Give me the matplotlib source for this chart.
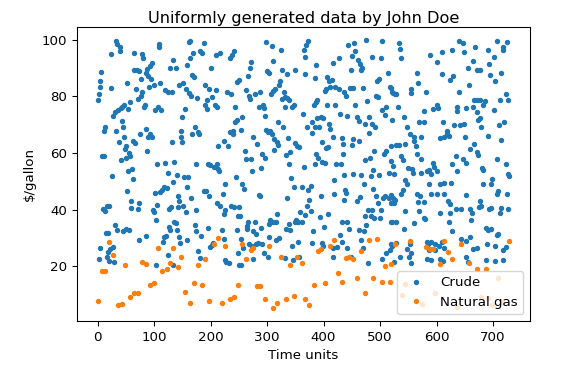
import matplotlib
matplotlib.use("Agg")
import matplotlib.pyplot as plt

# crude price per day
crude_day = [
    33, 34, 39, 40, 24, 64, 79, 80, 108, 109,
    161, 164, 189, 169, 182, 185, 209, 217, 241, 238,
    235, 134, 129, 138, 96, 93, 88, 65, 69, 73,
    85, 90, 94, 76, 6, 5, 4, 2, 0, 23,
    52, 68, 78, 91, 100, 111, 120, 124, 132, 144,
    152, 157, 162, 165, 176, 170, 167, 159, 163, 200,
    190, 197, 210, 203, 193, 191, 194, 208, 212, 229,
    237, 247, 250, 244, 246, 243, 240, 239, 234, 223,
    214, 230, 58, 46, 43, 41, 36, 31, 28, 53,
    72, 82, 84, 77, 102, 107, 112, 155, 150, 173,
    168, 177, 179, 147, 148, 149, 131, 92, 89, 97,
    86, 75, 44, 45, 47, 38, 62, 67, 51, 49,
    55, 57, 50, 42, 87, 14, 11, 32, 8, 12,
    105, 119, 135, 125, 141, 175, 195, 199, 206, 211,
    213, 215, 26, 54, 61, 153, 160, 245,
    63, 52, 101, 110, 114, 117, 122, 133, 158, 188,
    192, 198, 225, 222, 60, 74, 59, 71, 106, 98,
    99, 126, 130, 142, 145, 151, 143, 156, 174, 166,
    212, 216, 226, 224, 236, 242, 249, 10, 13, 17,
    21, 104, 136, 139, 127, 128, 140, 30, 35, 45,
    50, 56, 15, 19, 172, 175, 183, 196, 220, 74,
    86, 116, 118, 121, 144, 146, 158, 199, 202, 205,
    223, 247, 5, 18, 22, 27, 2, 16, 20, 29,
    103, 124, 134, 178, 181, 225, 228, 232, 248,
    298, 308, 325, 373, 369, 365, 368, 444, 454, 475,
    504, 271, 269, 310, 300, 304, 326, 336, 349, 387,
    416, 427, 455, 450, 461, 464, 468, 466, 485, 501,
    514, 448, 266, 323, 321, 367, 384, 406, 409, 415,
    411, 405, 403, 447, 452, 470, 498, 495, 517, 521,
    526, 262, 268, 270, 279, 288, 314, 311, 307, 330,
    331, 327, 335, 338, 421, 428, 436, 440, 492, 496,
    477, 456, 503, 508, 511, 285, 292, 294, 332, 344,
    347, 383, 386, 389, 407, 420, 429, 442, 459, 462,
    480, 473, 486, 491, 481, 522, 256, 253, 297, 275,
    282, 299, 302, 306, 309, 313, 318, 320, 319, 328,
    337, 350, 353, 356, 363, 371, 380, 388, 395, 399,
    385, 392, 410, 412, 417, 379, 398, 404, 408, 432,
    434, 453, 451, 463, 490, 507, 510, 520, 261, 263,
    272, 291, 296, 312, 334, 341, 339, 366, 386, 390,
    384, 397, 402, 422, 431, 435, 474, 483, 487, 273,
    290, 437, 452, 467, 484, 499, 516, 523,
    255, 259, 286, 287, 342, 348, 361, 372, 378, 336,
    419, 438, 439, 436, 471, 465, 460, 488, 493, 497,
    506, 509, 515, 519, 527, 396, 418, 375, 370, 359,
    368, 377, 408, 394, 251, 252, 267, 278, 265, 264,
    276, 281, 289, 305, 310, 303, 315, 317, 338, 340,
    333, 351, 350, 355, 362, 381, 401, 430, 433, 441,
    445, 463, 472, 476, 474, 479, 485, 484, 489, 500,
    502, 521, 254, 257, 268, 274, 280, 284, 291, 295,
    301, 304, 316, 321, 331, 345, 354, 346, 357, 379,
    397, 399, 416, 423, 417, 432, 442, 448, 469, 467,
    478, 504, 511, 517, 522, 250, 253, 275,
    534, 535, 538, 588, 600, 609, 628, 640, 646, 649,
    669, 691, 701, 707, 717, 718, 724, 665, 656, 671,
    677, 693, 714, 695, 703, 565, 567, 610, 624, 630,
    658, 519, 523, 528, 555, 554, 581, 640, 666, 671,
    677, 685, 683, 713, 723, 727, 531, 577, 594, 601,
    603, 636, 637, 653, 665, 671, 677, 674, 701, 542,
    569, 578, 612, 631, 642, 648, 679, 711, 720, 547,
    553, 561, 572, 560, 563, 565, 619, 618, 622, 606,
    614, 650, 691, 714, 528, 534, 545, 666, 659, 671,
    674, 634, 646, 653, 628, 636, 538, 541, 573, 519,
    549, 557, 559, 572, 583, 587, 594, 596, 600, 590,
    681, 683, 707, 723, 727, 729, 525,
    544, 547, 587, 607, 614, 626, 683, 696, 699, 519,
    523, 525, 541, 538, 566, 571, 590, 600, 613, 567,
    577, 620, 624, 652, 677, 679, 707, 709, 725, 519,
    529, 544, 561, 577, 579, 569, 606, 624, 634, 644,
    659, 662, 628, 622, 661, 675, 693, 697, 714, 713,
    727, 687, 691, 696, 707, 709, 542, 659, 644, 519,
    528, 547, 553, 555, 583, 585, 591, 597, 604, 613,
    610, 587, 597, 590, 607, 612, 653, 665, 672, 690,
    703, 717, 723, 536, 551, 555, 584, 687, 703, 718,
    652, 656, 525,
]
crude_price = [
    99.6, 98.4, 97.3, 96.1, 94.9, 95.4, 94.9, 93.4, 98.4, 97.3,
    99.3, 99.6, 98.7, 95.4, 96.1, 95.4, 94.5, 95.4, 96.1, 94.5,
    93.4, 93.0, 90.2, 90.2, 91.8, 90.6, 89.8, 89.4, 89.4, 89.0,
    88.3, 87.1, 86.2, 86.2, 88.6, 85.4, 83.3, 80.9, 78.6, 82.9,
    84.7, 82.7, 81.5, 83.3, 83.9, 84.7, 82.3, 81.5, 81.5, 84.2,
    84.7, 82.7, 81.2, 80.3, 79.5, 86.8, 87.4, 91.0, 93.7, 90.2,
    84.2, 82.7, 82.1, 79.7, 78.6, 77.1, 75.6, 76.8, 76.2, 81.5,
    80.9, 85.1, 85.7, 76.2, 71.7, 70.9, 67.9, 66.7, 67.3, 64.3,
    62.6, 62.6, 78.0, 77.1, 76.4, 75.9, 75.2, 74.4, 73.2, 75.6,
    79.1, 76.2, 76.8, 80.3, 75.2, 76.4, 75.2, 75.6, 72.9, 69.1,
    66.9, 67.3, 66.7, 67.9, 65.5, 63.8, 63.8, 66.7, 65.8, 65.5,
    68.5, 66.9, 71.4, 69.1, 65.8, 63.8, 64.3, 63.4, 62.6, 61.4,
    59.9, 59.0, 58.4, 57.5, 60.8, 69.1, 67.9, 67.9, 59.0, 59.0,
    56.1, 56.6, 57.0, 53.1, 52.3, 56.1, 56.1, 55.8, 55.1, 56.1,
    54.3, 53.7, 51.9, 53.7, 54.3, 51.6, 51.6, 51.6,
    50.9, 46.5, 45.9, 46.1, 47.1, 48.0, 47.7, 49.7, 48.0, 46.5,
    46.5, 44.7, 48.9, 45.7, 42.9, 42.4, 40.6, 40.2, 41.8, 40.0,
    39.0, 40.2, 40.9, 44.7, 43.0, 41.2, 40.9, 39.0, 39.8, 44.1,
    42.4, 41.4, 39.8, 38.6, 41.2, 40.9, 37.6, 40.2, 39.4, 41.4,
    41.4, 36.4, 35.8, 35.3, 33.8, 32.9, 32.7, 34.7, 32.7, 32.3,
    33.1, 32.7, 31.7, 31.7, 34.7, 32.3, 30.8, 33.5, 32.9, 29.3,
    30.8, 28.7, 30.5, 30.8, 30.5, 28.4, 29.3, 26.7, 27.6, 28.2,
    29.6, 32.7, 26.4, 25.2, 26.0, 26.7, 22.5, 23.2, 22.0, 21.6,
    20.5, 24.0, 20.5, 25.5, 22.8, 22.2, 21.6, 21.0, 24.8,
    99.3, 97.7, 96.5, 99.6, 98.1, 96.5, 93.9, 98.1, 98.7, 99.9,
    99.6, 92.2, 90.2, 92.5, 89.0, 88.3, 89.4, 87.8, 89.4, 91.0,
    91.8, 93.4, 96.1, 94.2, 92.8, 91.6, 90.2, 89.4, 94.0, 93.7,
    88.3, 89.2, 87.1, 85.4, 84.2, 87.8, 86.6, 86.8, 85.4, 85.9,
    83.5, 82.7, 81.9, 83.1, 83.1, 83.1, 86.2, 85.4, 83.3, 81.5,
    80.9, 82.1, 80.0, 79.1, 80.9, 81.5, 82.7, 81.9, 80.9, 81.5,
    79.7, 79.1, 79.5, 78.8, 83.5, 82.7, 81.5, 80.3, 80.0, 79.7,
    78.5, 76.8, 75.2, 73.6, 76.4, 76.2, 77.1, 75.9, 76.2, 76.4,
    77.1, 76.8, 78.0, 78.6, 77.1, 77.1, 73.8, 73.2, 72.6, 71.4,
    72.9, 70.3, 70.3, 69.3, 67.0, 71.7, 72.9, 68.1, 73.2, 65.8,
    63.2, 68.1, 67.3, 67.7, 66.7, 64.9, 63.8, 62.9, 70.9, 69.3,
    65.3, 63.4, 62.6, 62.0, 73.8, 69.3, 70.9, 72.4, 72.6, 72.4,
    69.1, 69.1, 70.3, 68.5, 65.8, 67.0, 63.8, 61.7, 62.0, 65.3,
    63.2, 64.9, 62.9, 64.1, 60.6, 59.8, 60.8, 62.6, 60.6, 57.8,
    57.8, 59.6, 58.4, 61.0, 59.4, 60.2, 56.1, 54.9, 59.8, 58.4,
    56.1, 57.0, 56.6, 56.1, 56.1, 59.6, 57.5, 58.2, 53.9, 53.5,
    54.6, 52.3, 52.5, 52.3, 51.9, 52.3, 53.1, 55.5,
    48.9, 47.3, 45.3, 44.7, 51.2, 48.0, 48.0, 46.9, 48.5, 44.1,
    50.4, 46.9, 45.9, 43.5, 48.9, 44.5, 43.0, 47.3, 45.0, 42.4,
    44.1, 45.0, 44.1, 42.4, 43.5, 44.7, 45.7, 43.5, 41.2, 39.0,
    38.2, 39.4, 38.6, 37.4, 40.9, 37.6, 35.8, 35.8, 34.1, 33.1,
    32.3, 31.5, 33.5, 36.4, 35.8, 35.0, 35.8, 38.6, 35.0, 32.7,
    33.1, 36.4, 35.5, 35.5, 35.5, 32.3, 33.8, 31.1, 35.8, 35.8,
    33.1, 32.7, 32.3, 34.7, 37.6, 39.8, 39.8, 37.6, 37.0, 37.0,
    39.8, 35.8, 29.6, 26.4, 27.9, 27.2, 27.9, 28.2, 27.9, 24.6,
    23.4, 30.5, 29.3, 29.9, 22.8, 27.2, 28.7, 22.2, 23.4, 28.4,
    28.4, 27.2, 26.4, 26.7, 23.4, 28.7, 26.4, 23.2, 26.4, 29.3,
    21.0, 22.5, 24.6, 25.8, 27.0, 20.5, 20.5, 22.5,
    98.9, 96.9, 93.7, 94.5, 92.2, 95.7, 96.3, 99.6, 98.9, 95.7,
    97.3, 96.3, 93.9, 99.6, 97.3, 96.3, 99.3, 92.5, 90.2, 89.4,
    89.4, 91.6, 88.3, 87.4, 85.4, 88.3, 84.7, 87.8, 85.9, 87.1,
    84.2, 83.1, 81.2, 80.9, 82.7, 81.2, 81.5, 81.5, 78.8, 78.8,
    78.8, 78.3, 77.1, 78.8, 80.9, 78.8, 76.2, 74.8, 75.6, 77.1,
    75.9, 76.2, 74.8, 75.9, 76.2, 74.4, 72.4, 71.7, 75.2, 72.9,
    70.9, 70.9, 70.9, 70.0, 70.0, 70.3, 69.3, 70.0, 70.9, 69.1,
    66.7, 65.8, 65.8, 64.3, 62.6, 59.8, 67.9, 66.9, 66.1, 65.3,
    65.5, 65.8, 66.1, 64.6, 62.9, 62.9, 63.2, 63.2, 61.4, 60.2,
    59.4, 59.0, 57.8, 56.6, 56.1, 53.5, 59.0, 57.5, 57.8, 57.2,
    54.6, 54.3, 53.1, 53.1, 53.5, 53.9, 56.6, 54.9, 53.5, 52.5,
    54.6, 53.9, 57.8, 56.1, 52.5, 51.9, 52.5,
    50.4, 49.2, 48.9, 48.9, 49.5, 49.5, 48.9, 49.2, 50.9, 45.3,
    44.1, 42.4, 46.9, 45.7, 45.7, 45.0, 45.7, 45.7, 45.7, 42.6,
    42.6, 43.0, 42.1, 45.3, 43.0, 41.2, 45.7, 46.5, 45.7, 35.8,
    35.5, 39.4, 35.3, 37.0, 36.7, 39.4, 38.8, 38.8, 40.2, 40.2,
    40.2, 38.8, 32.3, 35.8, 36.4, 40.9, 40.2, 40.6, 40.6, 38.8,
    40.2, 33.5, 32.7, 33.1, 31.1, 31.5, 33.1, 30.5, 29.6, 27.9,
    28.2, 26.0, 27.9, 24.8, 28.7, 27.9, 28.7, 27.9, 27.0, 26.4,
    28.7, 25.8, 25.8, 22.2, 22.5, 22.0, 29.1, 26.0, 26.4, 27.9,
    27.2, 25.8, 26.7, 23.2, 23.2, 21.3, 22.5, 22.2, 22.0, 22.2,
    23.4, 21.6, 21.6,
]

# natural gas price, roughly weekly
gas_day = [
    0, 8, 14, 21, 28, 36, 43, 49, 58, 65,
    71, 79, 86, 93, 99, 107, 114, 122, 128, 134,
    142, 148, 155, 163, 170, 177, 185, 191, 198, 206,
    213, 220, 226, 234, 241, 248,
    256, 263, 271, 276, 282, 288, 296, 303, 310, 318,
    325, 333, 340, 347, 353, 361, 368, 375, 383, 390,
    396, 403, 412, 418, 426, 433, 440, 445, 452, 460,
    467, 473, 480, 487, 495, 503, 509, 517, 520, 526,
    539, 545, 553, 575, 581, 588, 594, 598, 607, 613,
    620, 628, 637, 643, 657, 671, 678, 687, 691, 698,
    708, 716, 728,
]
gas_price = [
    7.7, 18.3, 18.3, 28.7, 24.0, 6.2, 6.8, 20.5, 9.2, 10.6,
    10.6, 21.6, 20.7, 13.4, 14.0, 26.4, 18.3, 18.9, 21.0, 26.4,
    19.6, 23.2, 11.0, 7.1, 14.0, 20.5, 13.4, 22.5, 7.7, 27.9,
    29.9, 7.1, 27.0, 8.6, 9.2, 13.4,
    27.9, 22.5, 25.8, 26.4, 13.0, 13.0, 8.6, 27.0, 5.4, 7.1,
    23.2, 8.6, 20.5, 9.4, 23.4, 21.0, 8.3, 6.2, 13.4, 25.5,
    26.0, 14.0, 27.0, 29.3, 17.7, 14.5, 22.8, 23.4, 22.5, 15.7,
    25.5, 10.6, 29.3, 15.7, 29.6, 14.5, 20.1, 14.5, 20.8, 27.9,
    9.8, 13.9, 29.1, 6.8, 26.7, 26.0, 26.0, 10.6, 20.8, 29.1,
    25.2, 22.5, 5.6, 27.9, 21.0, 18.9, 9.2, 18.9, 8.8, 6.5,
    16.0, 7.4, 29.1,
]

fs = 9.65

fig = plt.figure(figsize=(5.86, 3.74), dpi=100)
ax = fig.add_axes([0.1314, 0.1417, 0.773, 0.7869])

ax.plot(crude_day, crude_price, ".", markersize=5.8, markeredgewidth=0.97, label="Crude")
ax.plot(gas_day, gas_price, ".", markersize=5.8, markeredgewidth=0.97, label="Natural gas")

ax.set_title("Uniformly generated data by John Doe", fontsize=11.6, pad=3)
ax.set_xlabel("Time units", fontsize=fs)
ax.set_ylabel(r"\$/gallon", fontsize=fs)
ax.tick_params(labelsize=fs, width=0.77, length=3.4)
for sp in ax.spines.values():
    sp.set_linewidth(0.77)

ax.legend(loc="lower right", fontsize=fs)

fig.savefig("out.png", dpi=100)
